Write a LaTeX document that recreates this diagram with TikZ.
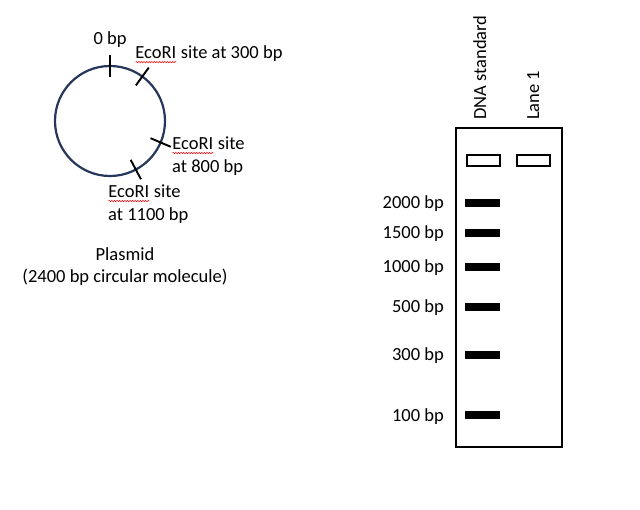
\documentclass[tikz,border=0pt]{standalone}
\usepackage{fontspec}
\setmainfont{Carlito}
\usetikzlibrary{decorations.pathmorphing}
\definecolor{ringblue}{RGB}{38,55,92}
% spell-check squiggle under a word
\newcommand{\redwave}[1]{\tikz[baseline=(w.base)]{\node[inner sep=0pt,outer sep=0pt] (w) {#1};
  \draw[red,line width=0.5pt,decorate,decoration={snake,amplitude=0.7pt,segment length=2.6pt}]
  ([yshift=-3pt]w.south west) -- ([yshift=-3pt]w.south east);}}
\begin{document}
\begin{tikzpicture}[x=1pt,y=-1pt,font=\fontsize{18.5}{22.5}\selectfont,
  tick/.style={black,line width=1.9pt},
  lbl/.style={inner sep=0pt}]
\useasboundingbox (0,0) rectangle (640,510);
% plasmid
\coordinate (ring) at (110,121);
\draw[ringblue,line width=2.2pt] (ring) circle[radius=55];
\foreach \a in {-90,-54,23,62}
  \draw[tick,shift={(ring)}] (\a:44) -- (\a:66);
\node[lbl,anchor=base] (zero) at (110,45) {0 bp};
\node[lbl,anchor=base west] (site300) at (135,59) {\redwave{EcoRI} site at 300 bp};
\node[lbl,anchor=north west,align=left] (site800) at (172,137) {\redwave{EcoRI} site\\at 800 bp};
\node[lbl,anchor=north west,align=left] (site1100) at (108,185) {\redwave{EcoRI} site\\at 1100 bp};
\node[lbl,anchor=north,align=center] (plasmid) at (125,247) {Plasmid\\(2400 bp circular molecule)};
% gel
\draw[line width=2pt] (456,128) rectangle (562,447);
\draw[line width=1.9pt] (467,155) rectangle (500,166);
\draw[line width=1.9pt] (517,155) rectangle (550,166);
\node[lbl,rotate=90,anchor=base west] (std) at (486,120) {DNA standard};
\node[lbl,rotate=90,anchor=base west] (lane) at (539,120) {Lane 1};
\foreach \y/\s in {203/2000,233/1500,267/1000,307/500,355/300,415/100}{
  \fill (465,\y-4) rectangle (500,\y+4);
  \node[lbl,anchor=base east] (band\s) at (444,\y+6) {\s\ bp};
}
\end{tikzpicture}
\end{document}
